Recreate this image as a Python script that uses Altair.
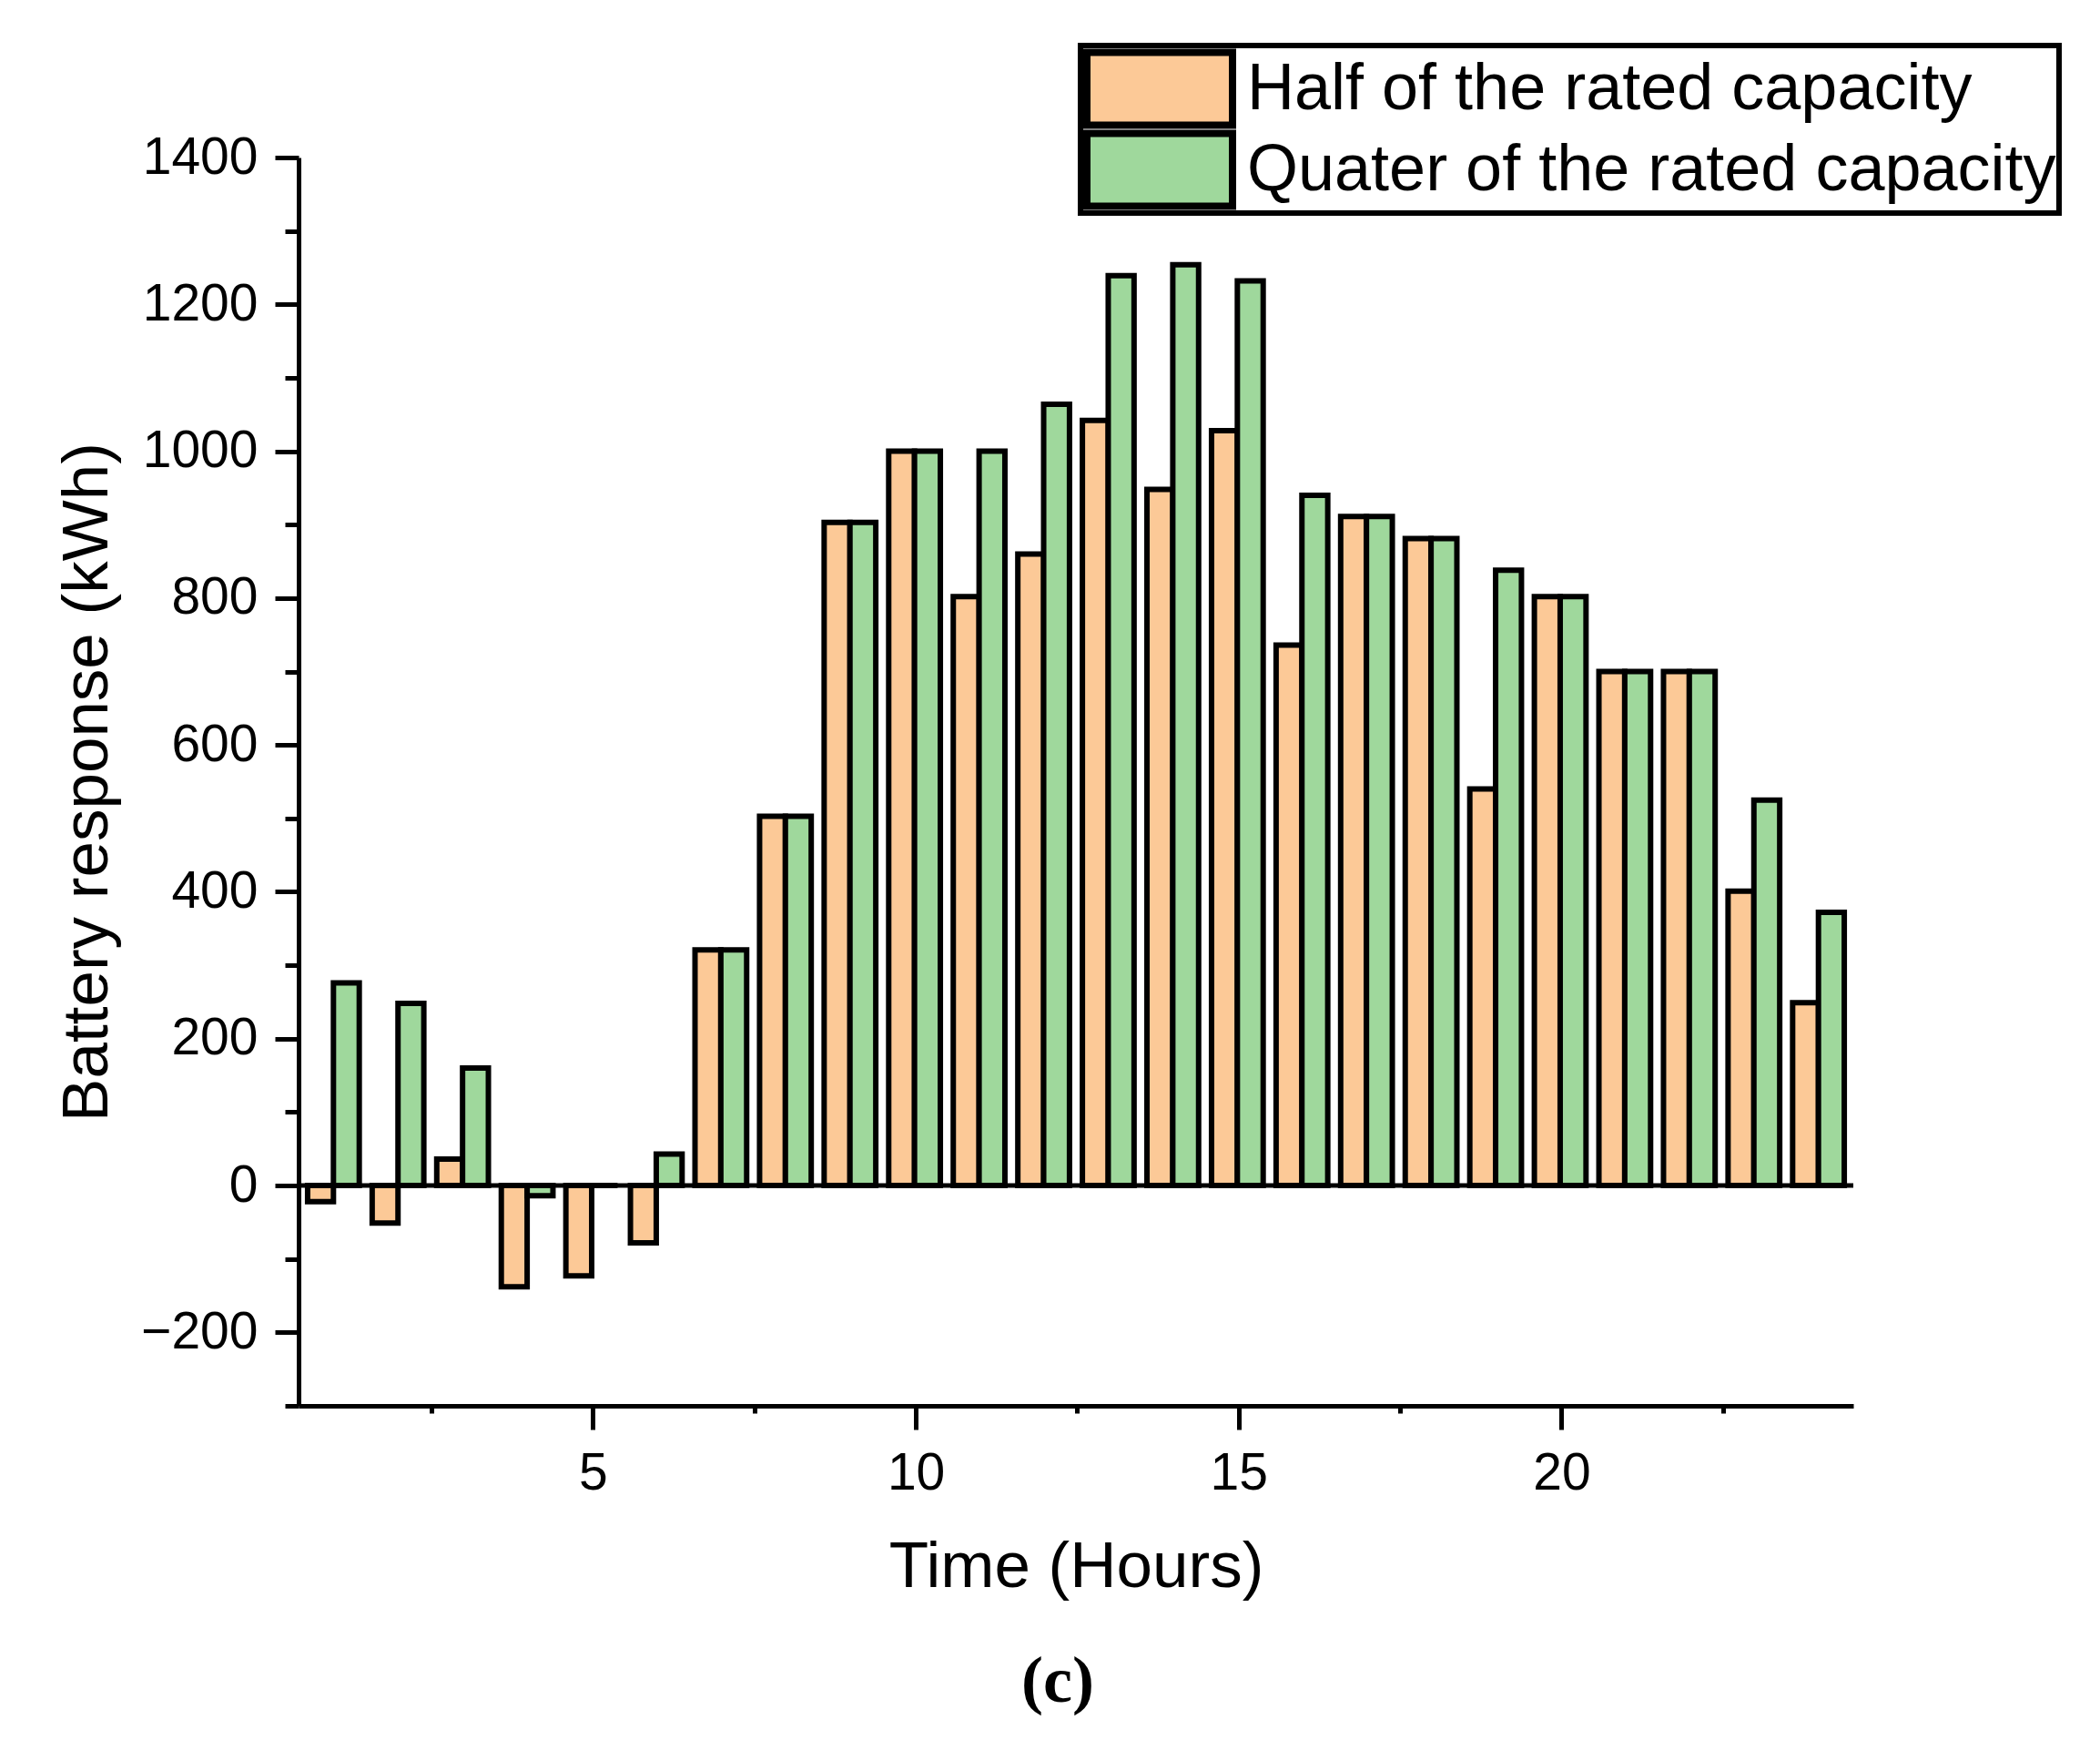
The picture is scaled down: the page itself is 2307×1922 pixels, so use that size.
import altair as alt
import pandas as pd

# ---- data ----
hours = list(range(1, 25))
half_capacity = [-22, -51, 36, -138, -123, -78, 321, 503, 903, 1000, 802, 860,
                 1042, 948, 1028, 736, 911, 881, 540, 802, 700, 700, 401, 249]
quarter_capacity = [276, 248, 160, -14, 0, 43, 321, 503, 903, 1000, 1000, 1064,
                    1239, 1254, 1232, 940, 911, 881, 838, 802, 700, 700, 525, 372]
series_names = ["Half of the rated capacity", "Quater of the rated capacity"]
series_colors = ["#FCC997", "#9FD89C"]

x_major = [5, 10, 15, 20]
x_minor = [2.5, 7.5, 12.5, 17.5, 22.5]
y_major = list(range(-200, 1401, 200))
y_minor = list(range(-300, 1400, 200))

rows = []
for h, a, b in zip(hours, half_capacity, quarter_capacity):
    rows.append({"hour": h, "series": series_names[0], "value": a})
    rows.append({"hour": h, "series": series_names[1], "value": b})
df = pd.DataFrame(rows)

FONT = "Liberation Sans"
xs = alt.Scale(domain=[0.44, 24.52], nice=False, zero=False)
ys = alt.Scale(domain=[-300, 1400], nice=False, zero=False)

major_x = alt.Axis(values=x_major, tickSize=26, labelPadding=20, titlePadding=40,
                   orient="bottom", format="d")
minor_x = alt.Axis(values=x_minor, tickSize=8, labels=False, domain=False,
                   orient="bottom", title=None)
major_y = alt.Axis(values=y_major, tickSize=26, labelPadding=19, titlePadding=22,
                   orient="left", format="d")
minor_y = alt.Axis(values=y_minor, tickSize=15, labels=False, domain=False,
                   orient="left", title=None)

legend = alt.Legend(
    orient="none", legendX=859, legendY=-123, title=None,
    symbolType="M-1,-1H3V1H-1Z", symbolSize=6400,
    symbolStrokeColor="black", symbolStrokeWidth=8, symbolOpacity=1,
    labelFont=FONT, labelFontSize=72, labelColor="black", labelOffset=92,
    labelLimit=2000, rowPadding=0, padding=3, clipHeight=89,
    strokeColor="black", fillColor="white",
)

base = alt.Chart(df).transform_calculate(
    x0="datum.hour + (datum.series === 'Half of the rated capacity' ? -0.42 : -0.02)"
).transform_calculate(
    x1="datum.x0 + 0.40"
)

bars = base.mark_bar(stroke="black", strokeWidth=6, opacity=1).encode(
    x=alt.X("x0:Q", scale=xs, axis=major_x, title="Time (Hours)"),
    x2="x1:Q",
    y=alt.Y("value:Q", scale=ys, axis=major_y, title="Battery response (kWh)"),
    y2=alt.datum(0),
    color=alt.Color("series:N",
                    scale=alt.Scale(domain=series_names, range=series_colors),
                    legend=legend),
)

minor = alt.Chart(df).mark_point(opacity=0).encode(
    x=alt.X("hour:Q", scale=xs, axis=minor_x),
    y=alt.Y("value:Q", scale=ys, axis=minor_y),
)

zero_line = alt.Chart(pd.DataFrame({"zero": [0]})).mark_rule(
    color="black", strokeWidth=5
).encode(y=alt.Y("zero:Q", scale=ys, axis=None))

chart = alt.layer(bars, minor, zero_line).resolve_axis(
    x="independent", y="independent"
).properties(
    width=1708,
    height=1371,
    autosize=alt.AutoSizeParams(type="none"),
    padding={"left": 320, "top": 165, "right": 263, "bottom": 350},
    title=alt.TitleParams("(c)", orient="bottom", font="Liberation Serif",
                          fontSize=72, fontWeight="bold", color="black",
                          offset=56, dx=-20, anchor="middle"),
).configure_view(stroke=None).configure_axis(
    labelFont=FONT, labelFontSize=57, labelColor="black",
    titleFont=FONT, titleFontSize=71, titleFontWeight="normal", titleColor="black",
    domainColor="black", domainWidth=5, tickColor="black", tickWidth=5,
    grid=False,
).configure_legend(strokeWidth=6)

chart.save("out.html", embed_options={"renderer": "svg", "actions": False})
